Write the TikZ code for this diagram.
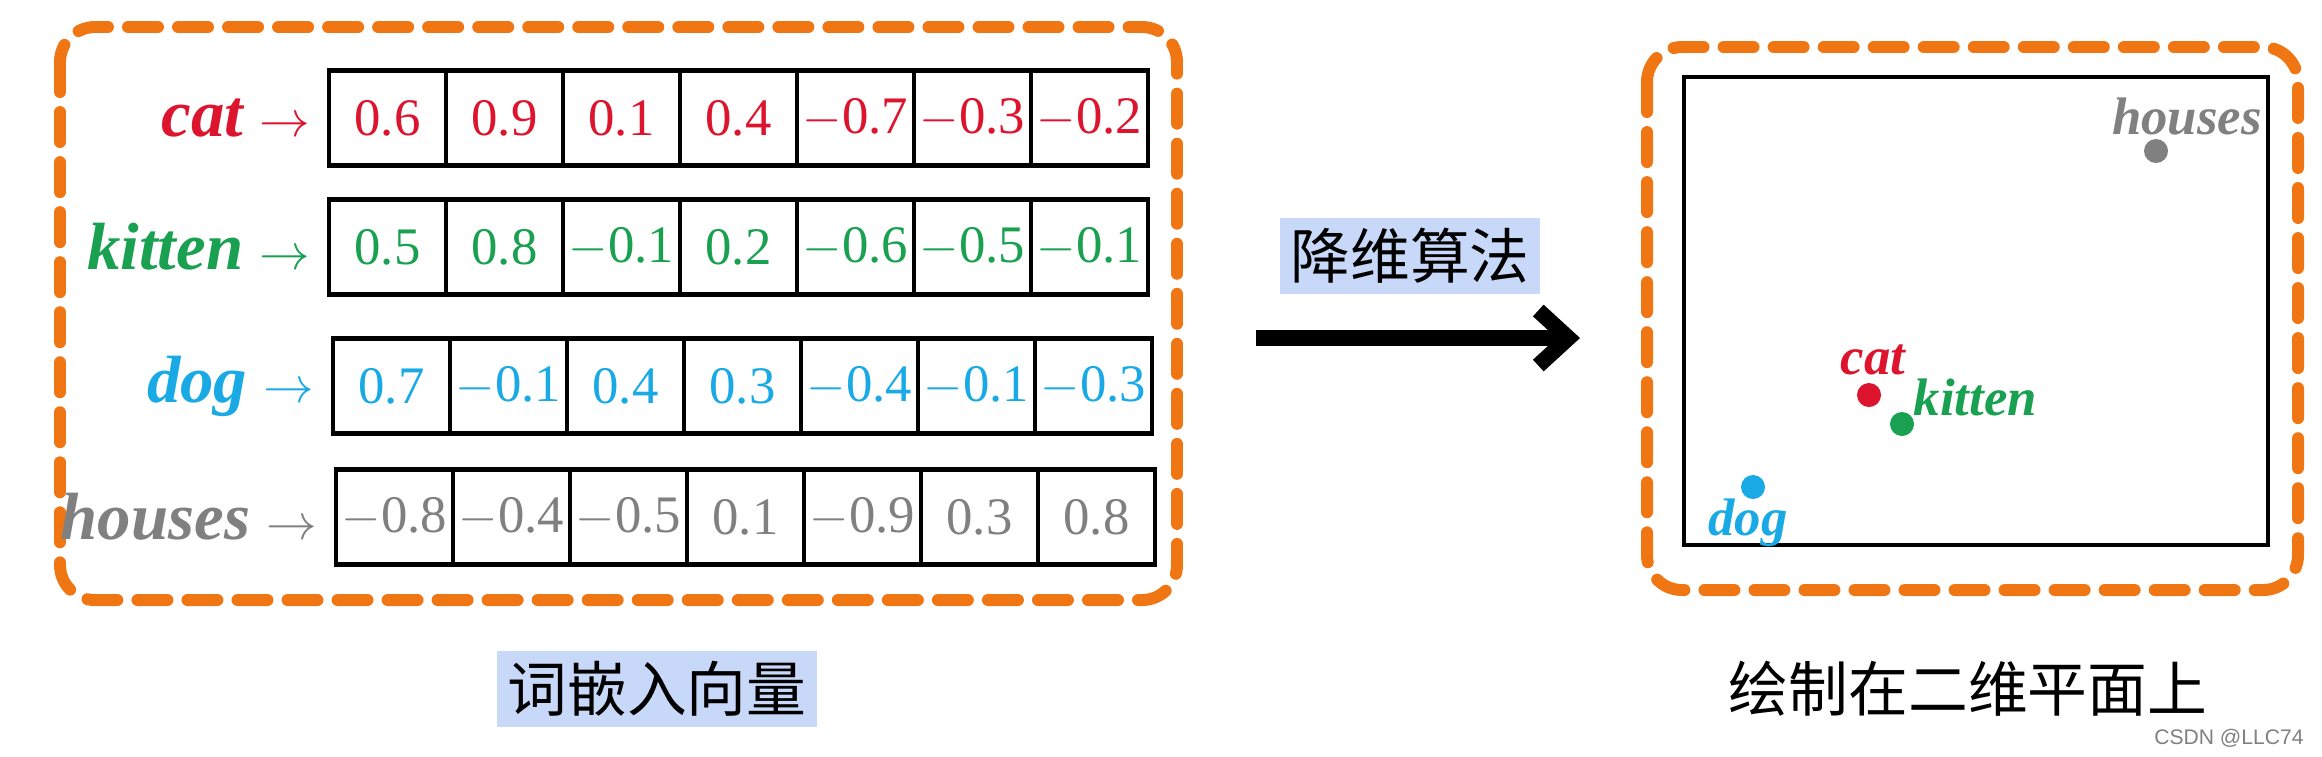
\documentclass[tikz,border=0pt]{standalone}
\usepackage{fontspec}
\usetikzlibrary{arrows.meta}
\setmainfont{Liberation Serif}
\newfontfamily\cjk{Noto Sans CJK SC}
\newfontfamily\wm{Liberation Sans}
\definecolor{cred}{RGB}{220,20,45}
\definecolor{cgreen}{RGB}{25,160,80}
\definecolor{cblue}{RGB}{25,170,230}
\definecolor{cgray}{RGB}{128,128,128}
\definecolor{corange}{RGB}{240,118,20}
\definecolor{cbg}{RGB}{200,216,248}
\tikzset{
  cell/.style={draw=black,line width=1.2pt,minimum width=1.17cm,minimum height=0.95cm,inner sep=0pt,font=\fontsize{15}{15}\selectfont},
  word/.style={anchor=east,font=\fontsize{19}{19}\selectfont\bfseries\itshape},
  frame/.style={draw=corange,line width=3.4pt,dash pattern=on 0.3cm off 0.2cm,line cap=round,rounded corners=0.35cm},
  captext/.style={font=\cjk\fontsize{17}{17}\selectfont,inner sep=3pt},
  dot/.style={circle,inner sep=0pt,minimum size=0.24cm},
  plab/.style={font=\fontsize{15}{15}\selectfont\bfseries\itshape,inner sep=0pt}
}
\begin{document}
\begin{tikzpicture}[x=0.01cm,y=-0.01cm]
\useasboundingbox (0,0) rectangle (2322,756);
\draw[frame] (60,27) rectangle (1177,600);
\foreach \r/\col/\y/\x/\w/\vals in {
  0/cred/118/329/cat/{0.6,0.9,0.1,0.4,$-$0.7,$-$0.3,$-$0.2},
  1/cgreen/247/329/kitten/{0.5,0.8,$-$0.1,0.2,$-$0.6,$-$0.5,$-$0.1},
  2/cblue/386/333/dog/{0.7,$-$0.1,0.4,0.3,$-$0.4,$-$0.1,$-$0.3},
  3/cgray/517/336/houses/{$-$0.8,$-$0.4,$-$0.5,0.1,$-$0.9,0.3,0.8}}{
  \node[word,text=\col] (w\r) at (\x-6,\y) {\w\ \normalfont\fontsize{15}{15}\selectfont$\rightarrow$};
  \foreach \v [count=\i from 0] in \vals {
    \node[cell,text=\col] (c\r\i) at (\x+58.5+117*\i,\y) {\v};
  }
}
\node[captext,fill=cbg] (t1) at (657,689) {词嵌入向量};
\coordinate (a1) at (1256,338);
\coordinate (a2) at (1580,338);
\draw[line width=4.5pt,-{Straight Barb[length=0.3cm,width=0.55cm]}] (a1) -- (a2);
\node[captext,fill=cbg] (t2) at (1410,256) {降维算法};
\draw[frame] (1647,47) rectangle (2298,590);
\draw[line width=1.2pt] (1684,77) rectangle (2268,545);
\node[dot,fill=cgray] (dh) at (2156,151) {};
\node[plab,text=cgray] (lh) at (2187,116) {houses};
\node[dot,fill=cred] (dc) at (1869,395) {};
\node[plab,text=cred] (lc) at (1873,360) {cat};
\node[dot,fill=cgreen] (dk) at (1902,424) {};
\node[plab,text=cgreen,anchor=west] (lk) at (1913,397) {kitten};
\node[dot,fill=cblue] (dd) at (1753,487) {};
\node[plab,text=cblue] (ld) at (1748,523) {dog};
\node[captext] (t3) at (1968,689) {绘制在二维平面上};
\node[font=\wm\fontsize{6}{6}\selectfont,text=cgray,anchor=east] (wm) at (2316,738) {CSDN @LLC74};
\end{tikzpicture}
\end{document}
